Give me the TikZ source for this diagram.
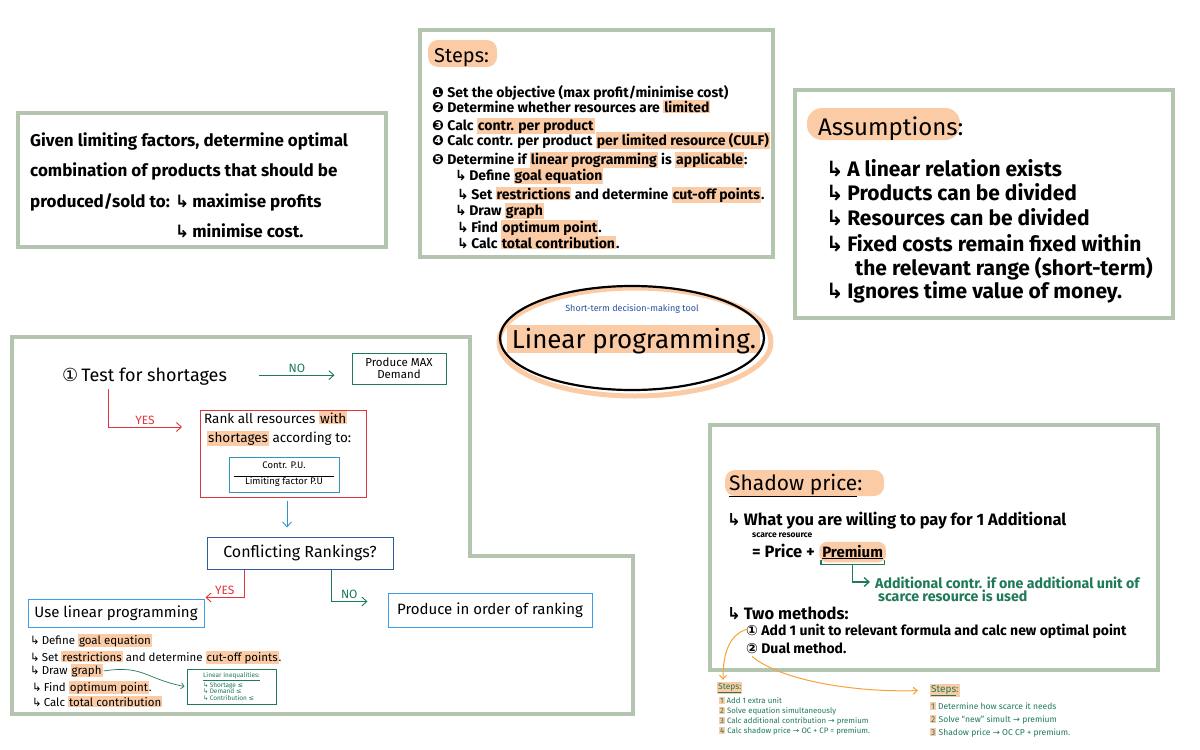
\documentclass[tikz,border=0pt]{standalone}
\usepackage{fontspec}
\setmainfont{Fira Sans}
\newfontfamily\sym{DejaVu Sans}
\usetikzlibrary{arrows.meta,calc}
\definecolor{frame}{HTML}{B3C4AF}
\definecolor{peach}{HTML}{FBCBA6}
\definecolor{grn}{HTML}{1F7A57}
\definecolor{redl}{HTML}{E2343A}
\definecolor{blued}{HTML}{2F5C9E}
\definecolor{bluel}{HTML}{3C9CEB}
\definecolor{bluem}{HTML}{3295C4}
\definecolor{orng}{HTML}{F5A33A}
\definecolor{tblue}{HTML}{2A4FA0}
\newcommand\hl[1]{{\setlength{\fboxsep}{1pt}\colorbox{peach}{#1}}}
\newcommand\ar{{\sym ↳}\,}
\newcommand\fz[1]{\fontsize{#1}{#1}\selectfont}
\begin{document}
\begin{tikzpicture}[x=1pt,y=-1pt,
  panel/.style={draw=frame, line width=4pt},
  txt/.style={anchor=base west, inner sep=0pt, align=left},
  hlbox/.style={fill=peach, rounded corners=10pt, draw=none},
  flow/.style={draw, line width=1pt, inner sep=2pt, align=center},
  arr/.style={-{Straight Barb[length=5pt,width=9pt]}, line width=0.9pt}]
\useasboundingbox (0,0) rectangle (1200,750);
\fill[white] (0,0) rectangle (1200,750);

% ---------- top-left box ----------
\draw[panel] (18,113) rectangle (386,247);
\begin{scope}[every node/.style={txt, font=\fz{17}\bfseries}]
\node (g1) at (30,146) {Given limiting factors, determine optimal};
\node (g2) at (30,176) {combination of products that should be};
\node (g3) at (30,207) {produced/sold to: \ar maximise profits};
\node (g4) at (175,237) {\ar minimise cost.};
\end{scope}

% ---------- steps box ----------
\draw[panel] (420,30) rectangle (773,257);
\fill[hlbox] (428,40) rectangle (497,67);
\node[txt, font=\fz{20}] (sh) at (434,62) {Steps:};
\begin{scope}[every node/.style={txt, font=\fz{14}\bfseries}]
\node (s1) at (432,97) {{\sym ❶} Set the objective (max profit/minimise cost)};
\node (s2) at (432,112) {{\sym ❷} Determine whether resources are \hl{limited}};
\node (s3) at (432,130) {{\sym ❸} Calc \hl{contr. per product}};
\node (s4) at (432,145) {{\sym ❹} Calc contr. per product \hl{per limited resource (CULF)}};
\node (s5) at (432,164) {{\sym ❺} Determine if \hl{linear programming} is \hl{applicable}:};
\node (s6) at (455,180) {\ar Define \hl{goal equation}};
\node (s7) at (457,199) {\ar Set \hl{restrictions} and determine \hl{cut-off points}.};
\node (s8) at (455,215) {\ar Draw \hl{graph}};
\node (s9) at (457,232) {\ar Find \hl{optimum point}.};
\node (s10) at (457,248) {\ar Calc \hl{total contribution}.};
\end{scope}

% ---------- assumptions box ----------
\draw[panel] (795,90) rectangle (1173,318);
\fill[hlbox, rounded corners=15pt] (807,108) rectangle (960,140);
\node[txt, font=\fz{24}] (ah) at (818,135) {Assumptions:};
\begin{scope}[every node/.style={txt, font=\fz{21}\bfseries}]
\node (a1) at (826,176) {\ar A linear relation exists};
\node (a2) at (826,200) {\ar Products can be divided};
\node (a3) at (826,225) {\ar Resources can be divided};
\node (a4) at (826,251) {\ar Fixed costs remain fixed within};
\node (a5) at (855,275) {the relevant range (short-term)};
\node (a6) at (826,298) {\ar Ignores time value of money.};
\end{scope}

% ---------- central ellipse ----------
\draw[peach, line width=5pt] (635,342) ellipse [x radius=136, y radius=54];
\fill[peach] (507,325) rectangle (760,353);
\draw[black, line width=2.2pt] (632,338) ellipse [x radius=132, y radius=52];
\node[anchor=base, inner sep=0pt, font=\fz{9}, text=tblue] (lpsub) at (632,311) {Short-term decision-making tool};
\node[anchor=base, inner sep=0pt, font=\fz{26}] (lp) at (634,348) {Linear programming.};

% ---------- flowchart panel ----------
\draw[panel] (12,337) -- (470,337) -- (470,556) -- (633,556) -- (633,714) -- (12,714) -- cycle;
\node[txt, font=\fz{18}] (t1) at (62,381) {{\sym ①}\,Test for shortages};
\node[flow, draw=grn, minimum width=94pt, minimum height=31pt, font=\fz{11.5}, align=center] (pmax) at (399,368.5) {Produce MAX\\[1pt]Demand};
\draw[arr, grn] ($(t1.east)+(32,-1)$) -- ($(t1.east -| pmax.west)+(-17,-1)$) node[midway, above=-1pt, font=\fz{12}] (nolab1) {NO};

\node[flow, draw=redl, minimum width=166pt, minimum height=87pt] (rank) at (283,453.5) {};
\node[txt, font=\fz{13.5}] (r1) at (204,423) {Rank all resources \hl{with}};
\node[txt, font=\fz{13.5}] (r2) at (207,442) {\hl{shortages} according to:};
\node[flow, draw=bluem, minimum width=110pt, minimum height=35pt, font=\fz{9.5}, inner sep=1pt] (frac) at (284,474.5) {Contr. P.U.\\[-2pt]\rule{100pt}{0.6pt}\\[-1pt]Limiting factor P.U};
\coordinate (yesend) at (182,427);
\draw[arr, redl] ($(t1.south west)+(46,4)$) |- (yesend) node[pos=0.75, above=-1pt, font=\fz{12}] (yeslab1) {YES};

\node[flow, draw=blued, minimum width=186pt, minimum height=32pt, font=\fz{16}] (conf) at (300,553) {Conflicting Rankings?};
\draw[arr, bluem] ([xshift=4pt,yshift=-3pt]rank.south) -- ([xshift=-13pt, yshift=9pt]conf.north);

\node[flow, draw=bluel, minimum width=176pt, minimum height=28pt, font=\fz{15}] (uselp) at (116,613) {Use linear programming};
\node[flow, draw=bluel, minimum width=204pt, minimum height=34pt, font=\fz{15}] (order) at (490,610) {Produce in order of ranking};
\draw[arr, redl] ([xshift=-56pt]conf.south) |- ([xshift=1pt,yshift=1pt]uselp.north east) node[pos=0.75, above=-1pt, font=\fz{12}] (yeslab2) {YES};
\draw[arr, grn] ([xshift=31pt]conf.south) |- ([xshift=-20pt, yshift=-9pt]order.north west) node[pos=0.75, above=-1pt, font=\fz{12}] (nolab2) {NO};

\begin{scope}[every node/.style={txt, font=\fz{11.5}}]
\node (l1) at (30,644) {\ar Define \hl{goal equation}};
\node (l2) at (30,661) {\ar Set \hl{restrictions} and determine \hl{cut-off points}.};
\node (l3) at (30,674) {\ar Draw \hl{graph}};
\node (l4) at (32,691) {\ar Find \hl{optimum point}.};
\node (l5) at (32,706) {\ar Calc \hl{total contribution}};
\end{scope}
\node[draw=grn, line width=1pt, minimum width=89pt, minimum height=35pt, inner sep=2pt, align=left, font=\fz{6.5}, text=grn] (ineq) at (231.5,686.5) {\underline{Linear inequalities:}\\\ar Shortage {\sym ≤}\\\ar Demand {\sym ≤}\\\ar Contribution {\sym ≤}};
\draw[arr, grn, line width=0.7pt, -{Straight Barb[length=3pt,width=6pt]}] ([xshift=1pt]l3.east) .. controls +(40,-6) and +(-40,-8) .. ([xshift=-2pt]ineq.west);

% ---------- shadow price box ----------
\draw[panel] (710,425) rectangle (1158,670);
\fill[hlbox] (725,470) rectangle (884,496);
\node[txt, font=\fz{21}] (spt) at (729,490) {\underline{Shadow price}:};
\begin{scope}[every node/.style={txt, font=\fz{16.5}\bfseries}]
\node (w1) at (727,525) {\ar What you are willing to pay for 1 Additional};
\node[font=\fz{8.5}\bfseries] (w2) at (752,537) {scarce resource};
\node (pr1) at (752,557) {= Price +};
\node (tm) at (727,619) {\ar Two methods:};
\node[font=\fz{14}\bfseries] (m1) at (746,635) {{\sym ①} Add 1 unit to relevant formula and calc new optimal point};
\node[font=\fz{14}\bfseries] (m2) at (746,653) {{\sym ②} Dual method.};
\end{scope}
\node[anchor=base west, fill=peach, rounded corners=8pt, inner sep=3pt, font=\fz{15}\bfseries] (prem) at ($(pr1.base east)+(4,0)$) {\underline{Premium}};
\draw[grn, line width=1.3pt] ([xshift=2pt,yshift=2pt]prem.south west) -- ([xshift=2pt,yshift=-2pt]prem.south west) -- ([xshift=-2pt,yshift=-2pt]prem.south east) -- ([xshift=-2pt,yshift=2pt]prem.south east);
\coordinate (gtxt) at (870,582);
\draw[arr, grn, line width=1.3pt] ([yshift=-2pt]prem.south) |- (gtxt);
\node[txt, font=\fz{14.2}\bfseries, text=grn] (ga) at (875,588) {Additional contr. if one additional unit of};
\node[txt, font=\fz{14.2}\bfseries, text=grn] (gb) at (878,601) {scarce resource is used};

% ---------- bottom steps ----------
\node[anchor=base west, fill=peach, inner sep=1pt, font=\fz{8.5}, text=grn] (bs1) at (717,689) {\underline{Steps:}};
\begin{scope}[every node/.style={txt, font=\fz{7.8}, text=grn}]
\node (b1) at (719,703) {\hl{1} Add 1 extra unit};
\node (b2) at (719,713) {\hl{2} Solve equation simultaneously};
\node (b3) at (719,723) {\hl{3} Calc additional contribution {\sym →} premium};
\node (b4) at (719,733) {\hl{4} Calc shadow price {\sym →} OC + CP = premium.};
\end{scope}
\node[anchor=base west, fill=peach, inner sep=1pt, font=\fz{10}, text=grn] (bs2) at (930,692) {\underline{Steps}:};
\begin{scope}[every node/.style={txt, font=\fz{8.5}, text=grn}]
\node (c1) at (930,709) {\hl{1} Determine how scarce it needs};
\node (c2) at (930,722) {\hl{2} Solve “new” simult {\sym →} premium};
\node (c3) at (930,735) {\hl{3} Shadow price {\sym →} OC CP + premium.};
\end{scope}
\draw[orng, line width=1pt, -{Straight Barb[length=4pt,width=7pt]}] ([xshift=2pt,yshift=2pt]m1.west) .. controls +(-22,6) and +(0,-20) .. ([xshift=6pt,yshift=2pt]bs1.north west);
\draw[orng, line width=1pt, -{Straight Barb[length=4pt,width=7pt]}] ([xshift=6pt,yshift=-3pt]m2.south west) .. controls +(30,25) and +(-60,2) .. ([xshift=-12pt]bs2.west);
\end{tikzpicture}
\end{document}
